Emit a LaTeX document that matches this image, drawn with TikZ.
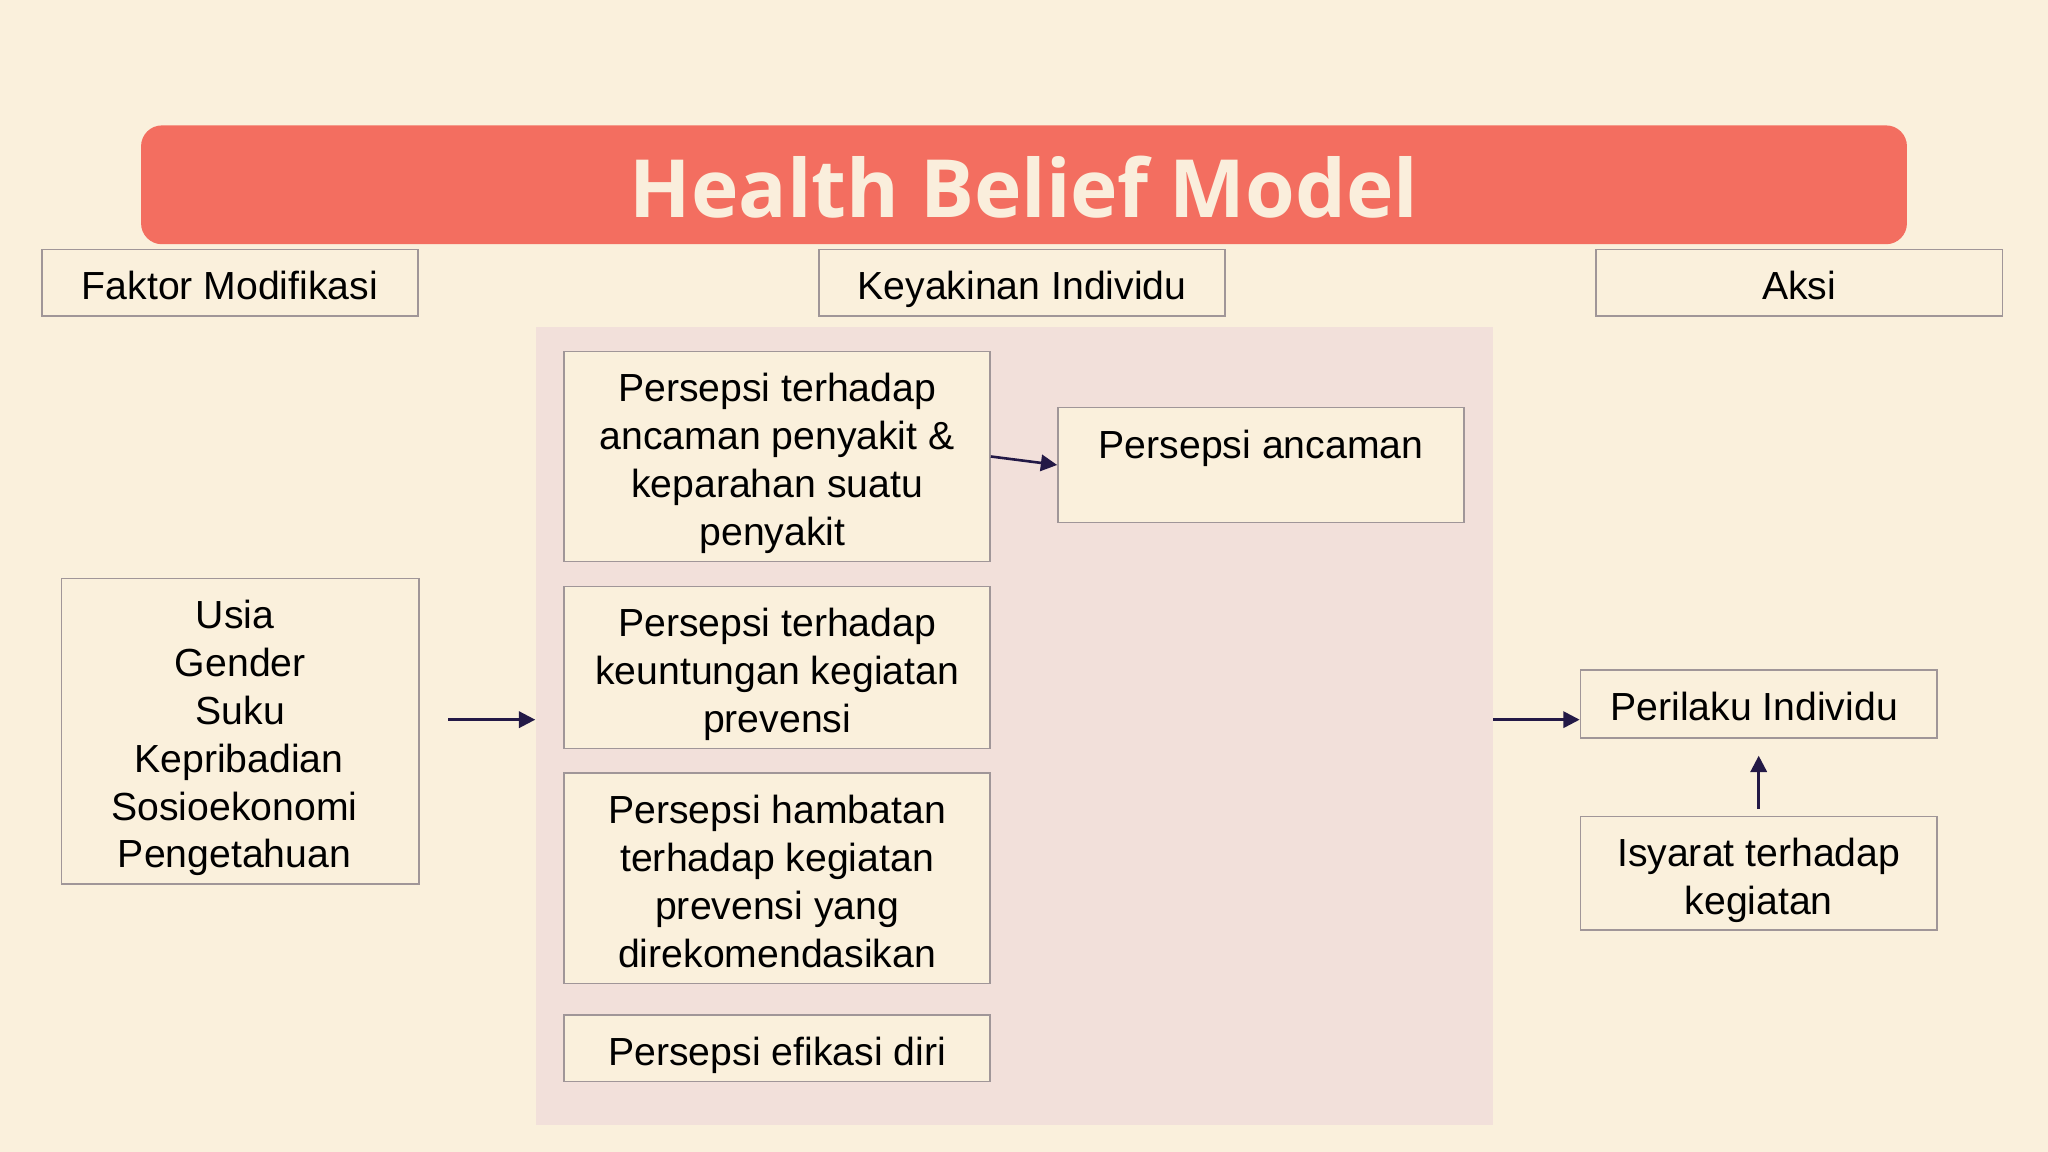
\documentclass[tikz,border=0pt]{standalone}
\usepackage{fontspec}
\setmainfont{Liberation Sans}
\newfontfamily\titlefont{Open Sans}
\usetikzlibrary{arrows.meta}
\definecolor{bgcream}{RGB}{250,240,220}
\definecolor{titlered}{RGB}{243,110,96}
\definecolor{titletext}{RGB}{250,238,220}
\definecolor{pinkarea}{RGB}{242,224,218}
\definecolor{boxline}{RGB}{160,150,152}
\definecolor{arrowcol}{RGB}{35,25,70}
\newcommand\tstr{\rule{0pt}{34pt}}
\newcommand\bstr{\rule[-8pt]{0pt}{8pt}}
\tikzset{
  box/.style={draw=boxline, line width=1.2pt, fill=bgcream, rectangle, inner sep=0pt, align=center,
    font=\fontsize{30}{36.6}\selectfont},
  arr/.style={draw=arrowcol, line width=2pt, -{Triangle[length=12.5pt,width=12.5pt]}},
}
\begin{document}
\begin{tikzpicture}[x=1pt,y=-1pt]
\fill[bgcream] (0,0) rectangle (1568,882);
\useasboundingbox (0,0) rectangle (1568,882);
% title
\node[fill=titlered, rounded corners=16pt, minimum width=1352pt, minimum height=91pt, inner sep=0pt,
  text=titletext, font=\titlefont\bfseries\fontsize{61.5}{66}\selectfont] (title) at (784,141.5) {\rule{0pt}{50pt}Health Belief Model};
% headers
\node[box, minimum width=288pt, minimum height=51pt] (fm) at (176,216.5) {\tstr Faktor Modifikasi\bstr};
\node[box, minimum width=311pt, minimum height=51pt] (ki) at (782.5,216.5) {\tstr Keyakinan Individu\bstr};
\node[box, minimum width=311pt, minimum height=51pt] (aksi) at (1377.5,216.5) {\tstr Aksi\bstr};
% pink area
\node[fill=pinkarea, minimum width=733pt, minimum height=611pt, inner sep=0pt] (bg) at (776.5,555.5) {};
% belief boxes
\node[box, minimum width=326pt, minimum height=161pt] (b1) at (595,349.5) {\tstr Persepsi terhadap\\ancaman penyakit \&\\keparahan suatu\\penyakit\rule{7pt}{0pt}\bstr};
\node[box, minimum width=311pt, minimum height=88pt] (pa) at (965.5,356) {\tstr Persepsi ancaman\\\bstr};
\node[box, minimum width=326pt, minimum height=124pt] (b2) at (595,511) {\tstr Persepsi terhadap\\keuntungan kegiatan\\prevensi\bstr};
\node[box, minimum width=326pt, minimum height=161pt] (b3) at (595,672.5) {\tstr Persepsi hambatan\\terhadap kegiatan\\prevensi yang\\direkomendasikan\bstr};
\node[box, minimum width=326pt, minimum height=51pt] (b4) at (595,802.5) {\tstr Persepsi efikasi diri\bstr};
% modifying factors
\node[box, minimum width=274pt, minimum height=234pt] (fac) at (184,560) {\tstr Usia\rule{8pt}{0pt}\\Gender\\Suku\\Kepribadian\rule{2pt}{0pt}\\Sosioekonomi\rule{9pt}{0pt}\\Pengetahuan\rule{9pt}{0pt}\bstr};
% action
\node[box, minimum width=273pt, minimum height=52pt] (pi) at (1346.5,539) {\tstr Perilaku Individu\rule{7pt}{0pt}\bstr};
\node[box, minimum width=273pt, minimum height=87pt] (isy) at (1346.5,668.5) {\tstr Isyarat terhadap\\kegiatan\bstr};
% connectors
\coordinate (a1s) at (343,551);
\draw[arr] (a1s) -- (bg.west |- a1s);
\draw[arr] (bg.east |- a1s) -- (pi.west |- a1s);
\draw[arr] (b1.east) -- (pa.west);
\draw[arr, shorten <=5pt, shorten >=13pt] (isy.north) -- (pi.south);
\end{tikzpicture}
\end{document}
